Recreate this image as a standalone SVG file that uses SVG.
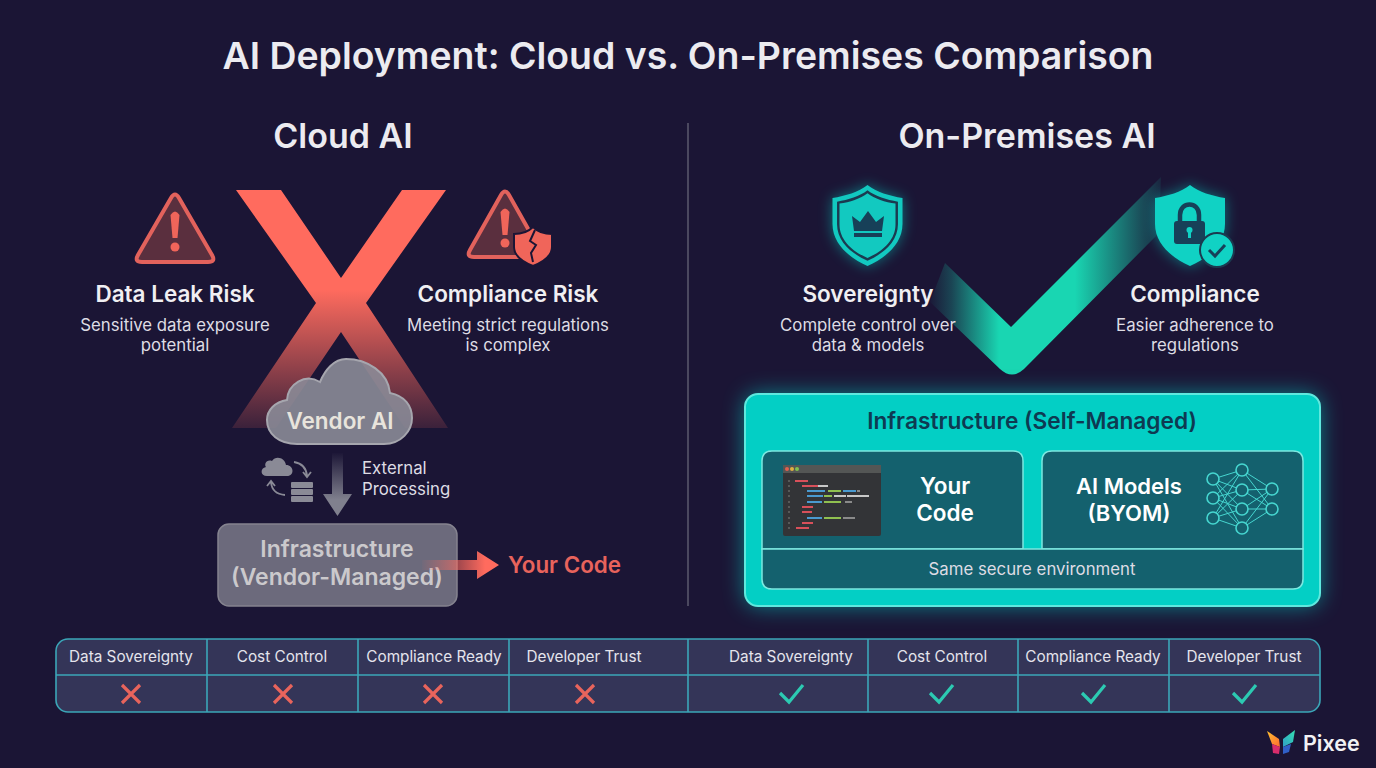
<svg xmlns="http://www.w3.org/2000/svg" width="1376" height="768" viewBox="0 0 1376 768">
<defs>
<style>
text{font-family:"Inter","Noto Sans",sans-serif;text-anchor:middle}
.t{fill:#ecebf0;font-weight:600}
.h{font-size:22.500px;fill:#f0eff2;font-weight:600}
.s{font-size:16.800px;fill:#dedce4}
.th{font-size:15.300px;fill:#e4e4ec}
.l{stroke:#3ba6b8;stroke-width:1.6;fill:none}
.x{stroke:#e8645c;stroke-width:3.2;fill:none}
.c{stroke:#2ccab2;stroke-width:3.2;fill:none}
.n circle{fill:#14616e;stroke:#46d6d0;stroke-width:1.6}
.n path{stroke:#46d6d0;stroke-width:1;fill:none}
</style>
<linearGradient id="xg" gradientUnits="userSpaceOnUse" x1="0" y1="190" x2="0" y2="428"><stop offset="0" stop-color="#ff6b5e"/><stop offset=".42" stop-color="#ff6b5e"/><stop offset="1" stop-color="#ff6b5e" stop-opacity=".14"/></linearGradient>
<linearGradient id="cg" gradientUnits="userSpaceOnUse" x1="928" y1="0" x2="1165" y2="0"><stop offset="0" stop-color="#19d6b2" stop-opacity="0"/><stop offset=".1" stop-color="#19d6b2" stop-opacity=".25"/><stop offset=".3" stop-color="#19d6b2"/><stop offset=".62" stop-color="#19d6b2"/><stop offset="1" stop-color="#19d6b2" stop-opacity=".04"/></linearGradient>
<linearGradient id="ag" gradientUnits="userSpaceOnUse" x1="0" y1="452" x2="0" y2="500"><stop offset="0" stop-color="#80808e" stop-opacity="0"/><stop offset="1" stop-color="#80808e"/></linearGradient>
<linearGradient id="rg" gradientUnits="userSpaceOnUse" x1="420" y1="0" x2="485" y2="0"><stop offset="0" stop-color="#ff6b5e" stop-opacity="0"/><stop offset="1" stop-color="#ff6b5e"/></linearGradient>
<linearGradient id="lg1" x1="0" y1="0" x2="1" y2="1"><stop offset="0" stop-color="#ffc030"/><stop offset="1" stop-color="#ff6a30"/></linearGradient>
<linearGradient id="lg2" x1="1" y1="0" x2="0" y2="1"><stop offset="0" stop-color="#34e0b0"/><stop offset="1" stop-color="#30a0c8"/></linearGradient>
<filter id="glow" x="-30%" y="-30%" width="160%" height="160%"><feGaussianBlur stdDeviation="7"/></filter>
<filter id="glow2" x="-10%" y="-15%" width="120%" height="130%"><feGaussianBlur stdDeviation="11"/></filter>
<path id="sh" d="M0 -41 C9 -34 22 -30 35 -28 V-2 C35 18 18 32 0 40 C-18 32 -35 18 -35 -2 V-28 C-22 -30 -9 -34 0 -41Z"/>
</defs>
<rect width="1376" height="768" fill="#1b1535"/>
<text class="t" x="688" y="69" font-size="37.400">AI Deployment: Cloud vs. On-Premises Comparison</text>
<text class="t" x="343" y="148" font-size="34">Cloud AI</text>
<text class="t" x="1027" y="148" font-size="34">On-Premises AI</text>
<line x1="688" y1="123" x2="688" y2="606" stroke="#5d5a6e" stroke-width="1.5"/>

<g id="cloud-x"><path d="M236 190H281L341 278L402 190H446L366 303L448 428H405L341 332L276 428H232L316 303Z" fill="url(#xg)"/></g>

<g id="data-leak">
<path d="M171 198Q175 191 179 198L212 255Q216 262 208 262H142Q134 262 138 255Z" fill="#5a2f3e" stroke="#e2625c" stroke-width="4" stroke-linejoin="round"/>
<path d="M170.500 215Q175 208 179.500 215L177.500 238H172.500Z" fill="#f0655a"/><circle cx="175" cy="247" r="4.500" fill="#f0655a"/>
<text class="h" x="175" y="302">Data Leak Risk</text>
<text class="s" x="175" y="331">Sensitive data exposure</text><text class="s" x="175" y="351">potential</text>
</g>
<g id="compliance-risk">
<path d="M501 195Q505 188 509 195L540 250Q544 257 536 257H474Q466 257 470 250Z" fill="#5a2f3e" stroke="#e2625c" stroke-width="4" stroke-linejoin="round"/>
<path d="M500.500 212Q505 205 509.500 212L507.500 235H502.500Z" fill="#f0655a"/><circle cx="505" cy="243" r="4.500" fill="#f0655a"/>
<path d="M533 227C528 232 520 234 514 234V247C514 256 523 262 533 266C543 262 552 256 552 247V234C546 234 538 232 533 227Z" fill="#f0655a" stroke="#1b1535" stroke-width="2"/>
<path d="M535 230L530 241L536 245L531 253L533 262" fill="none" stroke="#1b1535" stroke-width="2"/>
<text class="h" x="508" y="302">Compliance Risk</text>
<text class="s" x="508" y="331">Meeting strict regulations</text><text class="s" x="508" y="351">is complex</text>
</g>
<g id="vendor-ai">
<path d="M297 444H384C401 444 412 431 412 418C412 406 405 396 390 393C388 372 367 359 346 359C334 359 325 370 320 382C305 373 288 384 287 400C275 402 267 410 267 420C267 434 279 444 297 444Z" fill="#8b8b97" fill-opacity=".9" stroke="#a6a6ae" stroke-width="2"/>
<text x="340" y="429" font-size="22.500" font-weight="600" fill="#e8e4dc">Vendor AI</text>
</g>
<g id="external-processing">
<path d="M267 476H287C295 476 294 465 286 465C285 458 276 455 272 461C266 459 264 465 266 467C260 468 260 476 267 476Z" fill="#8a8a96"/>
<path d="M294 462Q306 464 307 476M303 472L307 477L311 472M285 495Q272 494 271 482M267 486L271 481L275 486" fill="none" stroke="#8a8a96" stroke-width="1.800"/>
<g fill="#8a8a96"><rect x="291" y="482" width="22" height="6" rx="1"/><rect x="291" y="489" width="22" height="6" rx="1"/><rect x="291" y="496" width="22" height="6" rx="1"/></g>
<path d="M332 453H343V494H352L337.500 516L323 494H332Z" fill="url(#ag)"/>
<text class="s" x="362" y="474" style="text-anchor:start">External</text><text class="s" x="362" y="495" style="text-anchor:start">Processing</text>
</g>
<g id="infra-vendor">
<rect x="218" y="524" width="239" height="82" rx="11" fill="#6c6a7c" stroke="#85838f" stroke-width="1.500"/>
<text x="337" y="557" font-size="23" font-weight="600" fill="#cbc9cc">Infrastructure</text>
<text x="337" y="585" font-size="23" font-weight="600" fill="#cbc9cc">(Vendor-Managed)</text>
</g>
<g id="connectors"><path d="M422 560H477V551L499 565L477 579V570H422Z" fill="url(#rg)"/></g>
<text x="508" y="573" font-size="22.400" font-weight="600" fill="#e8635c" style="text-anchor:start">Your Code</text>

<g id="check"><path d="M945 263L1011 327L1161 177L1159 233L1024 369Q1012 380 1000 369L930 302Z" fill="url(#cg)"/></g>

<g id="sovereignty">
<use href="#sh" x="867.500" y="226" fill="#10d2c4" filter="url(#glow)" opacity=".5"/>
<use href="#sh" x="867.500" y="226" fill="#12c9c0"/>
<use href="#sh" transform="translate(867.500 226) scale(.87)" fill="#1b3a50"/>
<use href="#sh" transform="translate(867.500 226) scale(.8)" fill="#12c9c0"/>
<path d="M854 231L852 216L860 222L868 211L876 222L884 216L882 231Z" fill="#174058"/><rect x="854" y="233" width="28" height="4" fill="#174058"/>
<text class="h" x="868" y="302">Sovereignty</text>
<text class="s" x="868" y="331">Complete control over</text><text class="s" x="868" y="351">data &amp; models</text>
</g>
<g id="compliance">
<use href="#sh" x="1190" y="226" fill="#10d2c4" filter="url(#glow)" opacity=".5"/>
<use href="#sh" x="1190" y="226" fill="#10d2c4"/>
<path d="M1180 222V215C1180 201 1199 201 1199 215V222" fill="none" stroke="#174058" stroke-width="4.500"/>
<rect x="1174" y="221" width="31" height="23" rx="3" fill="#174058"/>
<circle cx="1189.500" cy="230" r="3" fill="#10d2c4"/><rect x="1188" y="231" width="3" height="7" fill="#10d2c4"/>
<circle cx="1217" cy="250" r="17" fill="#10d2c4" stroke="#1b3a50" stroke-width="2"/>
<path d="M1209 250L1215 256L1225 245" fill="none" stroke="#174058" stroke-width="3"/>
<text class="h" x="1195" y="302">Compliance</text>
<text class="s" x="1195" y="331">Easier adherence to</text><text class="s" x="1195" y="351">regulations</text>
</g>

<g id="infra-self">
<rect x="745" y="394" width="575" height="212" rx="13" fill="#00d0c6" filter="url(#glow2)" opacity=".6"/>
<rect x="745" y="394" width="575" height="212" rx="13" fill="#03cfc5" stroke="#5fe8de" stroke-width="2"/>
<text x="1032" y="429" font-size="22.700" font-weight="600" fill="#0e3a52">Infrastructure (Self-Managed)</text>
</g>
<g id="your-code">
<path d="M762 549V461Q762 451 772 451H1013Q1023 451 1023 461V549Z" fill="#14616e" stroke="#7ce8e0" stroke-width="1.500"/>
<rect x="783" y="465" width="98" height="71" rx="2" fill="#333437"/><rect x="783" y="465" width="98" height="8" fill="#545655"/>
<circle cx="787" cy="469" r="2" fill="#e0604f"/><circle cx="792" cy="469" r="2" fill="#e0b040"/><circle cx="797" cy="469" r="2" fill="#80c050"/>
<g stroke-width="2" fill="none">
<path stroke="#666" stroke-width="1.500" d="M788 481H790M788 486H790M788 491H790M788 496H790M788 502H790M788 507H790M788 512H790M788 518H790M788 523H790M788 528H790"/>
<path stroke="#d8505a" d="M795 481H808M802 486H818M802 507H813M802 512H812M802 523H813M796 528H809"/>
<path stroke="#c8c8c8" d="M818 486H828M834 496H846M847 496H869"/>
<path stroke="#8a8a8a" d="M857 491H860M845 502H852M843 518H855"/>
<path stroke="#4a9ad0" d="M807 491H825M843 491H856M807 496H823M807 502H822M807 518H822"/>
<path stroke="#90c050" d="M828 491H841M824 496H832M824 502H841M824 518H841"/>
</g>
<text class="h" x="945" y="494" style="fill:#fff">Your</text><text class="h" x="945" y="521" style="fill:#fff">Code</text>
</g>
<g id="ai-models">
<path d="M1042 549V461Q1042 451 1052 451H1293Q1303 451 1303 461V549Z" fill="#14616e" stroke="#7ce8e0" stroke-width="1.500"/>
<text class="h" x="1129" y="494" style="fill:#fff;font-size:22px">AI Models</text><text class="h" x="1129" y="521" style="fill:#fff;font-size:22px">(BYOM)</text>
<g class="n">
<path d="M1213 479L1242 470M1213 479L1242 490M1213 479L1242 509M1213 479L1242 528M1213 498L1242 470M1213 498L1242 490M1213 498L1242 509M1213 498L1242 528M1213 518L1242 470M1213 518L1242 490M1213 518L1242 509M1213 518L1242 528M1242 470L1272 489M1242 470L1272 509M1242 490L1272 489M1242 490L1272 509M1242 509L1272 489M1242 509L1272 509M1242 528L1272 489M1242 528L1272 509"/>
<circle cx="1213" cy="479" r="6"/><circle cx="1213" cy="498" r="6"/><circle cx="1213" cy="518" r="6"/>
<circle cx="1242" cy="470" r="6"/><circle cx="1242" cy="490" r="6"/><circle cx="1242" cy="509" r="6"/><circle cx="1242" cy="528" r="6"/>
<circle cx="1272" cy="489" r="6"/><circle cx="1272" cy="509" r="6"/>
</g>
</g>
<g id="same-env">
<path d="M762 549H1303V579Q1303 589 1293 589H772Q762 589 762 579Z" fill="#14616e" stroke="#7ce8e0" stroke-width="1.500"/>
<text class="s" x="1032" y="575">Same secure environment</text>
</g>

<g id="table">
<rect x="56" y="639" width="1264" height="73" rx="12" fill="#343558"/>
<rect x="56" y="639" width="1264" height="73" rx="12" class="l"/>
<path class="l" d="M56 675H1320M207 639V712M358 639V712M509 639V712M688 639V712M868 639V712M1018 639V712M1169 639V712"/>
<text class="th" x="131" y="662">Data Sovereignty</text><text class="th" x="282" y="662">Cost Control</text><text class="th" x="434" y="662">Compliance Ready</text><text class="th" x="584" y="662">Developer Trust</text>
<text class="th" x="791" y="662">Data Sovereignty</text><text class="th" x="942" y="662">Cost Control</text><text class="th" x="1093" y="662">Compliance Ready</text><text class="th" x="1244" y="662">Developer Trust</text>
<path class="x" d="M122 685L140 703M140 685L122 703M274 685L292 703M292 685L274 703M424 685L442 703M442 685L424 703M576 685L594 703M594 685L576 703"/>
<path class="c" d="M780 693L789 702L803 685M930 693L939 702L953 685M1082 693L1091 702L1105 685M1233 693L1242 702L1256 685"/>
</g>
<g id="pixee">
<path d="M1267 731L1279 739L1280 747L1272 744Z" fill="url(#lg1)"/>
<path d="M1272 744L1280 747L1279 754L1273 753Z" fill="#d82c6c"/>
<path d="M1295 730L1283 739L1283 747L1293 742Z" fill="url(#lg2)"/>
<path d="M1283 747L1291 744L1289 752L1283 754Z" fill="#3060c8"/>
<text x="1303" y="751" font-size="21.500" font-weight="600" fill="#f2f2f4" style="text-anchor:start">Pixee</text>
</g>
</svg>
